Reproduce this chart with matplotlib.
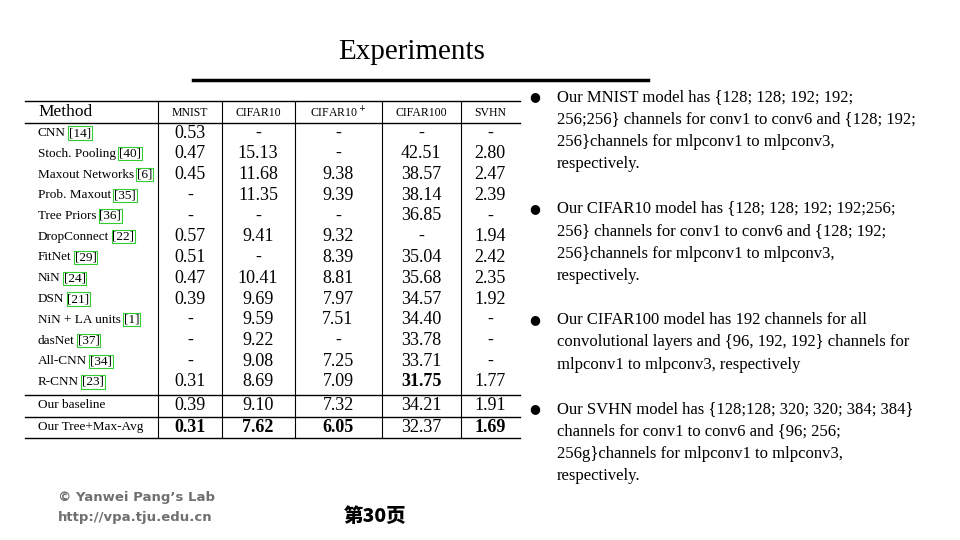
import matplotlib
matplotlib.use("Agg")
import matplotlib.pyplot as plt
from matplotlib import font_manager as fm

methods = ["CNN", "Stoch. Pooling", "Maxout Networks", "Prob. Maxout", "Tree Priors", "DropConnect",
           "FitNet", "NiN", "DSN", "NiN + LA units", "dasNet", "All-CNN", "R-CNN", "Our baseline", "Our Tree+Max-Avg"]
refs = ["14", "40", "6", "35", "36", "22", "29", "24", "21", "1", "37", "34", "23", None, None]
columns = ["MNIST", "CIFAR10", "CIFAR10$^+$", "CIFAR100", "SVHN"]
mnist = ["0.53", "0.47", "0.45", "-", "-", "0.57", "0.51", "0.47", "0.39", "-", "-", "-", "0.31", "0.39", "0.31"]
cifar10 = ["-", "15.13", "11.68", "11.35", "-", "9.41", "-", "10.41", "9.69", "9.59", "9.22", "9.08", "8.69", "9.10", "7.62"]
cifar10p = ["-", "-", "9.38", "9.39", "-", "9.32", "8.39", "8.81", "7.97", "7.51", "-", "7.25", "7.09", "7.32", "6.05"]
cifar100 = ["-", "42.51", "38.57", "38.14", "36.85", "-", "35.04", "35.68", "34.57", "34.40", "33.78", "33.71", "31.75", "34.21", "32.37"]
svhn = ["-", "2.80", "2.47", "2.39", "-", "1.94", "2.42", "2.35", "1.92", "-", "-", "-", "1.77", "1.91", "1.69"]
bold = {(14, 0), (14, 1), (14, 2), (12, 3), (14, 4)}

bullets = [
    ["Our MNIST model has {128; 128; 192; 192;", "256;256} channels for conv1 to conv6 and {128; 192;",
     "256}channels for mlpconv1 to mlpconv3,", "respectively."],
    ["Our CIFAR10 model has {128; 128; 192; 192;256;", "256} channels for conv1 to conv6 and {128; 192;",
     "256}channels for mlpconv1 to mlpconv3,", "respectively."],
    ["Our CIFAR100 model has 192 channels for all", "convolutional layers and {96, 192, 192} channels for",
     "mlpconv1 to mlpconv3, respectively"],
    ["Our SVHN model has {128;128; 320; 320; 384; 384}", "channels for conv1 to conv6 and {96; 256;",
     "256g}channels for mlpconv1 to mlpconv3,", "respectively."],
]

cjk_prop = None
for f in fm.findSystemFonts():
    if "CJK" in f or "cjk" in f.lower():
        cjk_prop = fm.FontProperties(fname=f, size=14)
        break
if cjk_prop is None:
    cjk_prop = fm.FontProperties(family="Noto Sans CJK SC", size=14)

fig = plt.figure(figsize=(9.6, 5.4), dpi=100)
ax = fig.add_axes([0, 0, 1, 1])
ax.set_xlim(0, 960); ax.set_ylim(540, 0); ax.axis("off")
serif = "Liberation Serif"

ax.text(412, 52, "Experiments", ha="center", va="center", fontsize=21, family=serif)
ax.plot([193, 648], [80, 80], color="black", lw=2.5)

L, R = 25, 520
vx = [158, 222, 295, 382, 461]
for yy in [101, 123, 395, 417, 438]:
    ax.plot([L, R], [yy, yy], color="black", lw=1)
for x in vx:
    ax.plot([x, x], [101, 438], color="black", lw=0.8)
ax.text(38, 112, "Method", ha="left", va="center", fontsize=12.5, family=serif)
centers = [190, 258, 338, 421, 490]
for c, name in zip(centers, columns):
    ax.text(c, 113, name, ha="center", va="center", fontsize=8.5, family=serif)
rowy = [133 + i * 20.75 for i in range(13)] + [405, 427]
cols = [mnist, cifar10, cifar10p, cifar100, svhn]
fig.canvas.draw()
for i, (m, r) in enumerate(zip(methods, refs)):
    y = rowy[i]
    t = ax.text(38, y, m, ha="left", va="center", fontsize=9.5, family=serif)
    if r:
        bb = t.get_window_extent(renderer=fig.canvas.get_renderer())
        x1 = ax.transData.inverted().transform((bb.x1, 0))[0]
        ax.text(x1 + 3, y, f"[{r}]", ha="left", va="center", fontsize=9.5, family=serif,
                bbox=dict(boxstyle="square,pad=0.05", fc="none", ec="#33cc33", lw=0.8))
    for j, col in enumerate(cols):
        ax.text(centers[j], y, col[i], ha="center", va="center", fontsize=13, family=serif,
                weight="bold" if (i, j) in bold else "normal")

y = 97
for b in bullets:
    ax.text(535, y, "\u25cf", ha="center", va="center", fontsize=9)
    for line in b:
        ax.text(557, y, line, ha="left", va="center", fontsize=12, family=serif)
        y += 22.5
    y += 21.5

ax.text(58, 497, "\u00a9 Yanwei Pang\u2019s Lab", ha="left", va="center", fontsize=9.5, weight="bold", color="#707070", family="DejaVu Sans")
ax.text(58, 517, "http://vpa.tju.edu.cn", ha="left", va="center", fontsize=9.5, weight="bold", color="#707070", family="DejaVu Sans")
ax.text(375, 516, "第30页", ha="center", va="center", fontproperties=cjk_prop)

fig.savefig("out.png", dpi=100)
